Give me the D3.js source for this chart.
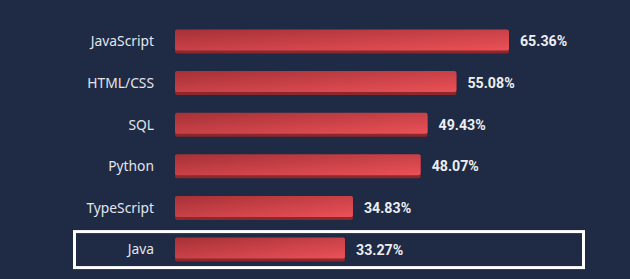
<!DOCTYPE html>
<html>
<head>
<meta charset="utf-8">
<script src="https://cdn.jsdelivr.net/npm/d3@7"></script>
<style>
  html, body { margin: 0; padding: 0; background: #1f2a44; }
</style>
</head>
<body>
<div class="chart"></div>
<script>
var svgWidth = 630;
var svgHeight = 279;

// data
var languages = ["JavaScript", "HTML/CSS", "SQL", "Python", "TypeScript", "Java"];
var shares = [65.36, 55.08, 49.43, 48.07, 34.83, 33.27];
var highlighted = "Java";

var data = languages.map((d, i) => ({ name: d, value: shares[i] }));

var svg = d3.select(".chart")
  .append("svg")
  .attr("width", svgWidth)
  .attr("height", svgHeight);

svg.append("rect")
  .attr("width", svgWidth)
  .attr("height", svgHeight)
  .attr("fill", "#1f2a44");

var defs = svg.append("defs");
var grad = defs.append("linearGradient")
  .attr("id", "barGrad")
  .attr("x1", "0%").attr("y1", "0%")
  .attr("x2", "100%").attr("y2", "100%");
grad.append("stop").attr("offset", "0%").attr("stop-color", "#a63137");
grad.append("stop").attr("offset", "100%").attr("stop-color", "#ea5157");

var xScale = d3.scaleLinear()
  .domain([0, 100])
  .range([175, 686]);

var yScale = d3.scaleBand()
  .domain(languages)
  .range([21, 270])
  .paddingInner(0.42)
  .paddingOuter(0.2);

var barH = 21;
var shadowH = 3;

var rows = svg.selectAll(".row")
  .data(data)
  .enter()
  .append("g")
  .attr("class", "row")
  .attr("transform", d => `translate(0, ${yScale(d.name) + yScale.bandwidth() / 2 - (barH + shadowH) / 2})`);

// highlight box for Java
rows.filter(d => d.name === highlighted)
  .append("rect")
  .attr("x", 74.5)
  .attr("y", (barH + shadowH) / 2 - 18)
  .attr("width", 509)
  .attr("height", 36)
  .attr("fill", "none")
  .attr("stroke", "#ffffff")
  .attr("stroke-width", 3);

// shadow under bar
rows.append("rect")
  .attr("x", xScale(0))
  .attr("y", shadowH)
  .attr("width", d => xScale(d.value) - xScale(0))
  .attr("height", barH)
  .attr("rx", 2)
  .attr("fill", "#8c272c");

rows.append("rect")
  .attr("x", xScale(0))
  .attr("y", 0)
  .attr("width", d => xScale(d.value) - xScale(0))
  .attr("height", barH)
  .attr("rx", 2)
  .attr("fill", "url(#barGrad)");

rows.append("text")
  .attr("x", 154)
  .attr("y", (barH + shadowH) / 2)
  .attr("dy", "0.35em")
  .attr("text-anchor", "end")
  .attr("fill", "#e2e6ec")
  .style("font-family", "'Noto Sans', 'DejaVu Sans', sans-serif")
  .style("font-size", "13.8px")
  .text(d => d.name);

rows.append("text")
  .attr("x", d => xScale(d.value) + 11)
  .attr("y", (barH + shadowH) / 2)
  .attr("dy", "0.35em")
  .attr("fill", "#eceef2")
  .style("font-family", "Roboto, 'Noto Sans', sans-serif")
  .style("font-weight", "bold")
  .style("font-size", "14.2px")
  .text(d => d.value.toFixed(2) + "%");
</script>
</body>
</html>
